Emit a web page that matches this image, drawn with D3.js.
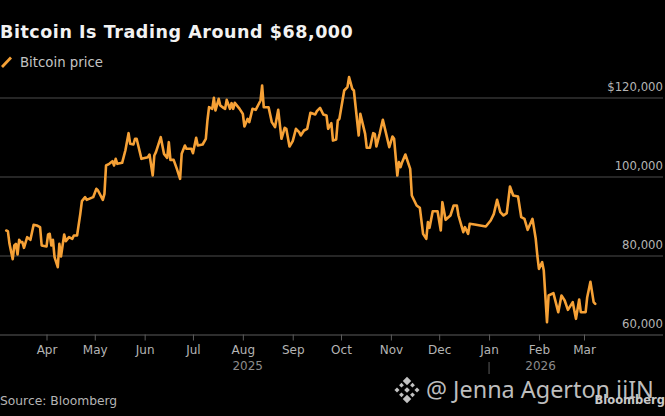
<!DOCTYPE html>
<html>
<head>
<meta charset="utf-8">
<script src="https://cdn.jsdelivr.net/npm/d3@7"></script>
<style>
  html, body { margin: 0; padding: 0; background: #000; overflow: hidden; }
  text { font-family: "DejaVu Sans", sans-serif; }
</style>
</head>
<body>
<div id="chart"></div>
<script>
const titleText = 'Bitcoin Is Trading Around $68,000';
const seriesName = 'Bitcoin price';
const sourceText = 'Source: Bloomberg';
const watermarkText = '@ Jenna Agerton iiIN';
const logoText = 'Bloomberg';

// Days counted from 1 Apr 2025
const dayOffsets = [
  -25, -24, -23, -21, -20, -19, -18, -17, -16, -15, -14, -12, -10, -8, -6, -4, -3, 0, 1, 2,
  3, 4, 5, 7, 8, 9, 11, 12, 14, 16, 17, 19, 21, 22, 24, 25, 29, 31, 32, 35,
  36, 37, 39, 41, 42, 43, 44, 47, 49, 51, 52, 54, 55, 56, 59, 63, 64, 66, 67, 68,
  71, 73, 75, 76, 77, 79, 81, 83, 84, 86, 87, 90, 91, 93, 94, 97, 99, 100, 101, 103,
  104, 105, 107, 108, 110, 111, 112, 114, 115, 116, 117, 120, 122, 123, 125, 126, 128, 130, 133, 134,
  135, 138, 140, 142, 144, 146, 148, 149, 151, 153, 155, 157, 158, 160, 162, 164, 167, 168, 170, 172,
  174, 175, 177, 178, 180, 181, 182, 185, 187, 188, 190, 191, 194, 195, 198, 199, 201, 203, 204, 205,
  207, 209, 213, 215, 216, 218, 219, 220, 221, 223, 226, 227, 230, 232, 234, 236, 237, 238, 240, 243,
  245, 246, 248, 251, 253, 255, 256, 259, 260, 262, 263, 266, 273, 276, 278, 280, 282, 284, 286, 288,
  290, 293, 295, 297, 299, 302, 304, 305, 306, 308, 309, 311, 312, 315, 318, 320, 322, 324, 327, 329,
  331, 332, 335, 336, 338, 340, 341
];
const prices = [
  86330, 86160, 82950, 79070, 82530, 82950, 80250, 83970, 83380, 83380, 81940, 84640, 83970, 87760, 87600, 87170, 82530, 82280, 85320, 85490,
  82530, 83970, 79580, 77050, 82950, 79750, 85320, 83630, 84640, 84220, 85060, 85060, 90550, 93760, 94770, 94090, 94770, 96880, 96460, 94090,
  95610, 102790, 103210, 103880, 102790, 104470, 103210, 103460, 106580, 110970, 108270, 108100, 109540, 109540, 104470, 104900, 105570, 100250, 105320, 106160,
  109960, 105740, 104730, 108690, 104220, 104220, 101940, 99410, 105740, 107850, 107010, 107010, 105910, 109790, 107850, 108100, 109540, 114180, 117550, 117130,
  119920, 116710, 119660, 117970, 117380, 117130, 119410, 117130, 118570, 117130, 118650, 117130, 115860, 112660, 114600, 113760, 117130, 116880, 119240, 123040,
  117550, 117550, 113760, 112490, 116880, 109540, 112320, 112070, 107590, 108940, 112070, 111220, 110380, 111650, 112070, 116120, 115700, 116540, 117380, 115700,
  115440, 112070, 113500, 109110, 109370, 114180, 114600, 121770, 122620, 125150, 122190, 121770, 110380, 115860, 110800, 107260, 107260, 110970, 110800, 107590,
  110800, 114350, 107430, 110130, 109540, 100250, 103630, 102360, 103630, 105570, 101940, 95190, 92660, 92070, 85480, 84220, 88440, 87000, 91220, 91220,
  86330, 93500, 89030, 90130, 92660, 92660, 90130, 85910, 87170, 85480, 88020, 87850, 87340, 88860, 90550, 94090, 90970, 90130, 90720, 97470,
  95190, 94940, 89700, 89280, 86500, 89280, 84220, 80000, 76620, 78310, 76200, 63120, 69870, 70460, 65650, 69870, 68610, 66240, 68190, 63970,
  68860, 65650, 65650, 69450, 73330, 68190, 67760
];

const priceTicks = [60000, 80000, 100000, 120000];
const monthLabels = ['Apr', 'May', 'Jun', 'Jul', 'Aug', 'Sep', 'Oct', 'Nov', 'Dec', 'Jan', 'Feb', 'Mar'];
const yearLabels = [
  {label: '2025', date: new Date(2025, 7, 4)},
  {label: '2026', date: new Date(2026, 1, 2)}
];

const width = 665;
const height = 416;
const dayZero = new Date(2025, 3, 1);
const monthDates = d3.range(12).map(i => new Date(2025, 3 + i, 1));
const points = dayOffsets.map((d, i) => [d3.timeDay.offset(dayZero, d), prices[i]]);

const xScale = d3.scaleTime()
  .domain([dayZero, new Date(2026, 2, 1)])
  .range([46.5, 584]);
const yScale = d3.scaleLinear()
  .domain([60000, 120000])
  .range([334.5, 97.5]);

const svg = d3.select('#chart')
  .append('svg')
  .attr('width', width)
  .attr('height', height)
  .style('display', 'block')
  .style('background', '#000');

// Grid and price labels
const yAxis = d3.axisLeft(yScale)
  .tickValues(priceTicks)
  .tickSize(-663)
  .tickFormat(d => (d === 120000 ? '$' : '') + d3.format(',')(d));
const yG = svg.append('g')
  .attr('transform', 'translate(663,0)')
  .call(yAxis);
yG.select('.domain').remove();
yG.selectAll('.tick line')
  .attr('x1', -663)
  .attr('x2', 0)
  .style('stroke', d => d === 60000 ? '#5c5c5c' : '#4c4c4c')
  .style('stroke-width', 1);
yG.selectAll('.tick text')
  .attr('x', 0)
  .attr('dy', '-0.62em')
  .attr('text-anchor', 'end')
  .style('font-size', '11.7px')
  .style('fill', '#b4b4b4');

// Month ticks
const xAxis = d3.axisBottom(xScale)
  .tickValues(monthDates)
  .tickSize(6)
  .tickPadding(5)
  .tickFormat((_, i) => monthLabels[i]);
const xG = svg.append('g')
  .attr('transform', 'translate(0,334.5)')
  .call(xAxis);
xG.select('.domain').remove();
xG.selectAll('.tick line')
  .style('stroke', '#5c5c5c');
xG.selectAll('.tick text')
  .style('font-size', '12px')
  .style('fill', '#b4b4b4');

svg.append('g')
  .selectAll('text')
  .data(yearLabels)
  .enter().append('text')
  .attr('x', d => xScale(d.date))
  .attr('y', 370)
  .attr('text-anchor', 'middle')
  .style('font-size', '12px')
  .style('fill', '#8c8c8c')
  .text(d => d.label);

// Separator between the two years
svg.append('line')
  .attr('x1', xScale(monthDates[9]))
  .attr('x2', xScale(monthDates[9]))
  .attr('y1', 362)
  .attr('y2', 374)
  .style('stroke', '#5c5c5c');

// Price line
svg.append('path')
  .datum(points)
  .attr('fill', 'none')
  .attr('stroke', '#f6a136')
  .attr('stroke-width', 2.6)
  .attr('stroke-linejoin', 'round')
  .attr('stroke-linecap', 'round')
  .attr('d', d3.line().x(d => xScale(d[0])).y(d => yScale(d[1])));

// Title and legend
svg.append('text')
  .attr('x', 0)
  .attr('y', 38)
  .style('font-size', '17.5px')
  .style('font-weight', 'bold')
  .style('letter-spacing', '0.55px')
  .style('fill', '#f2f2f2')
  .text(titleText);
svg.append('line')
  .attr('x1', 2)
  .attr('y1', 67)
  .attr('x2', 11)
  .attr('y2', 57.5)
  .style('stroke', '#f6a136')
  .style('stroke-width', 2.8);
svg.append('text')
  .attr('x', 20)
  .attr('y', 66.5)
  .style('font-size', '13.3px')
  .style('fill', '#c4c4c4')
  .text(seriesName);

svg.append('text')
  .attr('x', 0)
  .attr('y', 405)
  .style('font-size', '12.3px')
  .style('fill', '#b4b4b4')
  .text(sourceText);

// Watermark
const badge = svg.append('g')
  .attr('transform', 'translate(407,390)')
  .style('fill', '#c2c2c2');
badge.selectAll('rect')
  .data([[0, -9, 6], [0, 9, 6], [-10, 0, 3.6], [10, 0, 3.6], [0, 0, 4], [-5.5, -4.8, 3.4], [5.5, -4.8, 3.4], [-5.5, 4.8, 3.4], [5.5, 4.8, 3.4]])
  .enter().append('rect')
  .attr('x', d => -d[2] / 2)
  .attr('y', d => -d[2] / 2)
  .attr('width', d => d[2])
  .attr('height', d => d[2])
  .attr('transform', d => `translate(${d[0]},${d[1]}) rotate(45)`);
svg.append('text')
  .attr('x', 426)
  .attr('y', 398)
  .style('font-family', '"Noto Sans", sans-serif')
  .style('font-size', '23.4px')
  .style('fill', '#bdbdbd')
  .text(watermarkText);
svg.append('text')
  .attr('x', 665)
  .attr('y', 404)
  .attr('text-anchor', 'end')
  .style('font-size', '11.5px')
  .style('font-weight', 'bold')
  .style('fill', '#c8c8c8')
  .text(logoText);
</script>
</body>
</html>
